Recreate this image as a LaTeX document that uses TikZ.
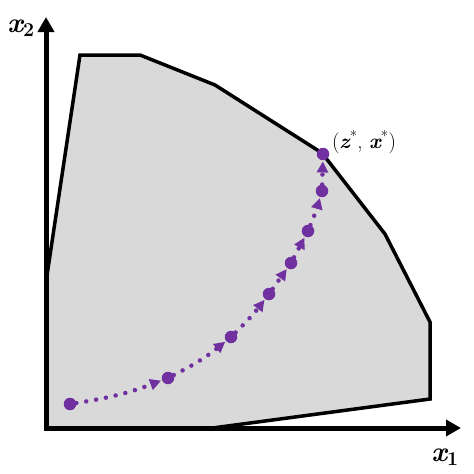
\documentclass[tikz,border=0pt]{standalone}
\usepackage{fontspec}
\usetikzlibrary{arrows.meta}
\definecolor{pt}{HTML}{7030A0}
\definecolor{region}{HTML}{D9D9D9}
\newcommand{\bvar}[1]{{\bfseries\itshape #1}}
\begin{document}
\begin{tikzpicture}[x=1pt,y=-1pt,
  axis/.style={line width=5pt,-{Triangle[length=15pt,width=16pt]}},
  border/.style={line width=3.5pt,line join=miter},
  iter/.style={circle,fill=pt,inner sep=0pt,minimum size=12.5pt},
  seg/.style={pt,line width=4.5pt,line cap=round,dash pattern=on 0pt off 10pt,
    -{Triangle[length=11pt,width=11pt,line cap=butt]},shorten >=1pt},
  lab/.style={font=\fontsize{28}{28}\selectfont}]
\useasboundingbox (0,0) rectangle (474,474);
\fill[region] (46,428) -- (46,280) -- (80,55) -- (140,55) -- (215,85) -- (322,153)
  -- (385,234) -- (430,322) -- (430,399) -- (212,428) -- cycle;
\draw[border] (46,282) -- (80,55) -- (140,55) -- (215,85) -- (322,153)
  -- (385,234) -- (430,322) -- (430,399) -- (205,429);
\coordinate (ytip) at (46,17);
\coordinate (xtip) at (461,428);
\draw[axis] (46,431) -- (ytip);
\draw[axis] (43.5,428) -- (xtip);
\node[lab] (x2) at (21,28) {\bvar{x}\textsubscript{\bfseries 2}};
\node[lab] (x1) at (445,457) {\bvar{x}\textsubscript{\bfseries 1}};
\node[font=\fontsize{21}{21}\selectfont] (zx) at (364,142) {(\bvar{z}\textsuperscript{*}, \bvar{x}\textsuperscript{*})};
\node[iter] (p0) at (70,404) {};
\node[iter] (p1) at (168,378) {};
\node[iter] (p2) at (231,337) {};
\node[iter] (p3) at (269,294) {};
\node[iter] (p4) at (291,263) {};
\node[iter] (p5) at (308,231) {};
\node[iter] (p6) at (322,191) {};
\node[iter] (p7) at (323,154) {};
\draw[seg] (p0) to[bend right=6] (p1);
\draw[seg] (p1) to[bend right=6] (p2);
\draw[seg] (p2) to[bend right=4] (p3);
\draw[seg] (p3) to (p4);
\draw[seg] (p4) to (p5);
\draw[seg] (p5) to[bend right=3] (p6);
\draw[seg] (p6) to (p7);
\end{tikzpicture}
\end{document}
